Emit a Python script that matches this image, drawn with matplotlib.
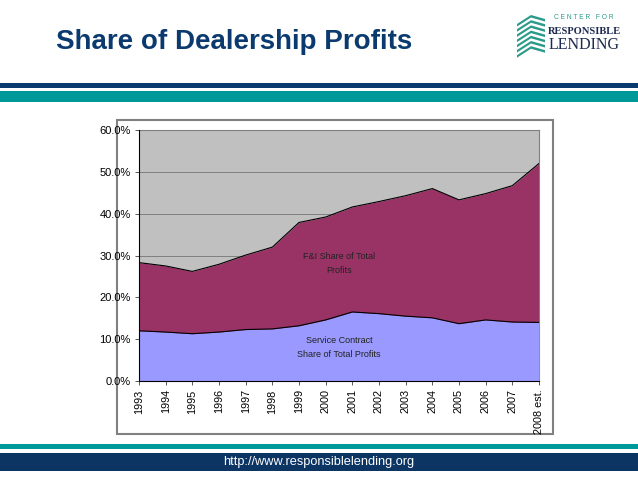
import matplotlib.pyplot as plt
from matplotlib.patches import Rectangle, Polygon

years = ['1993', '1994', '1995', '1996', '1997', '1998', '1999', '2000',
         '2001', '2002', '2003', '2004', '2005', '2006', '2007', '2008 est.']
fi_share = [28.3, 27.5, 26.2, 27.9, 30.1, 32.0, 37.9, 39.2,
            41.6, 42.9, 44.3, 46.0, 43.3, 44.8, 46.7, 52.0]
service_share = [12.0, 11.7, 11.3, 11.7, 12.3, 12.45, 13.2, 14.6,
                 16.5, 16.1, 15.5, 15.1, 13.7, 14.6, 14.1, 14.0]
yticks = [0, 10, 20, 30, 40, 50, 60]

W, H = 638, 478
navy = '#0b3a6e'
teal = '#009999'

plt.rcParams['font.family'] = ['Liberation Sans', 'DejaVu Sans']
fig = plt.figure(figsize=(W / 100, H / 100), dpi=100)
fig.set_facecolor('white')

# overlay in pixel coordinates for the slide decoration
bg = fig.add_axes([0, 0, 1, 1])
bg.set_xlim(0, W)
bg.set_ylim(H, 0)
bg.axis('off')

bg.add_patch(Rectangle((0, 83), W, 5.3, color=navy, lw=0))
bg.add_patch(Rectangle((0, 91), W, 10.5, color=teal, lw=0))
bg.add_patch(Rectangle((0, 443.5), W, 5.7, color=teal, lw=0))
bg.add_patch(Rectangle((0, 452.5), W, 18, color='#0d3564', lw=0))
bg.text(319, 462, 'http://www.responsiblelending.org', color='white',
        fontsize=9.2, ha='center', va='center')

bg.text(56, 49, 'Share of Dealership Profits', color=navy, fontsize=20,
        fontweight='bold', ha='left', va='baseline')

# chart frame
bg.add_patch(Rectangle((117, 119.5), 436, 314, fill=False, ec='#808080', lw=1.5))

# logo
for i in range(7):
    y0 = 15 + i * 5.2
    bg.add_patch(Polygon([(517, y0 + 9), (531, y0), (545, y0 + 4),
                          (545, y0 + 6.5), (531, y0 + 2.5), (517, y0 + 11.5)],
                         closed=True, color='#2a9a8a', lw=0))
bg.text(584, 17, 'C E N T E R   F O R', color='#2a9a8a', fontsize=4.8,
        ha='center', va='center', family='Liberation Sans')
bg.text(584, 31.5, 'RESPONSIBLE', color='#1e2a50', fontsize=7.6,
        ha='center', va='center', family='Liberation Serif', fontweight='bold')
bg.text(584, 45, 'LENDING', color='#1e2a50', fontsize=11.5,
        ha='center', va='center', family='Liberation Serif')

# chart
ax = fig.add_axes([139 / W, (H - 381) / H, 400 / W, 251 / H])
x = list(range(len(years)))
ax.set_facecolor('#c0c0c0')
ax.fill_between(x, 0, fi_share, color='#993366', lw=0, zorder=2)
ax.fill_between(x, 0, service_share, color='#9999ff', lw=0, zorder=3)
ax.plot(x, fi_share, color='black', lw=0.8, zorder=4)
ax.plot(x, service_share, color='black', lw=0.8, zorder=4)
ax.set_xlim(0, len(years) - 1)
ax.set_ylim(0, 60)
ax.set_yticks(yticks)
ax.set_yticklabels([f'{v:.1f}%' for v in yticks], fontsize=8)
ax.set_xticks(x)
ax.set_xticklabels(years, rotation=90, fontsize=7.8)
ax.grid(axis='y', color='#808080', lw=0.7, zorder=1)
ax.set_axisbelow(True)
for s in ['top', 'right']:
    ax.spines[s].set_color('#808080')
    ax.spines[s].set_linewidth(0.8)
for s in ['left', 'bottom']:
    ax.spines[s].set_color('black')
    ax.spines[s].set_linewidth(0.8)
    ax.spines[s].set_zorder(5)
ax.tick_params(axis='both', length=3, width=0.6, color='#404040', pad=3)

ax.text(7.5, 28.1, 'F&I Share of Total\nProfits', fontsize=6.5, ha='center',
        va='center', color='#222222', linespacing=1.6, zorder=6)
ax.text(7.5, 8.0, 'Service Contract\nShare of Total Profits', fontsize=6.5,
        ha='center', va='center', color='#222222', linespacing=1.6, zorder=6)

plt.savefig('out.png', dpi=100)
